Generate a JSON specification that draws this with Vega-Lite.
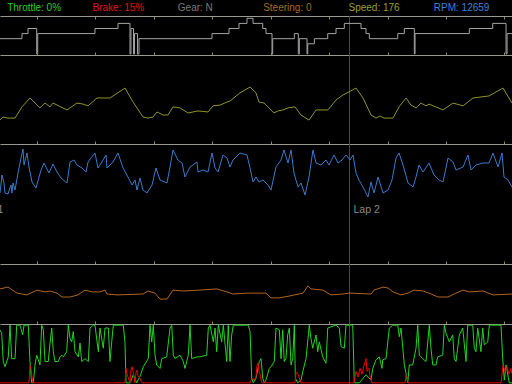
{
  "$schema": "https://vega.github.io/schema/vega-lite/v6.json",
  "background": "#000000",
  "padding": 0,
  "spacing": 0,
  "bounds": "flush",
  "config": {
    "view": {"stroke": null},
    "axis": {"labels": false, "grid": false, "domainColor": "#9a9a90", "tickColor": "#8c8c50", "tickSize": 3, "domainWidth": 1, "tickWidth": 1}
  },
  "datasets": {
    "header": [
      {"channel": "Throttle", "text": "Throttle: 0%"},
      {"channel": "Brake", "text": "Brake: 15%"},
      {"channel": "Gear", "text": "Gear: N"},
      {"channel": "Steering", "text": "Steering: 0"},
      {"channel": "Speed", "text": "Speed: 176"},
      {"channel": "RPM", "text": "RPM: 12659"}
    ],
    "laps": [
      {"t": 49.1, "lap": "Lap 1"},
      {"t": 113.5, "lap": "Lap 2"}
    ],
    "gear": [
      {"t":53.70,"gear":3},{"t":57.46,"gear":4},{"t":58.49,"gear":5},{"t":59.98,"gear":0},{"t":60.15,"gear":4},{"t":69.95,"gear":5},{"t":73.89,"gear":6},{"t":75.94,"gear":0},{"t":76.11,"gear":5},{"t":76.54,"gear":0},{"t":76.71,"gear":4},{"t":77.23,"gear":0},{"t":77.48,"gear":3},{"t":89.97,"gear":4},{"t":92.88,"gear":5},{"t":94.59,"gear":6},{"t":95.96,"gear":7},{"t":96.99,"gear":6},{"t":98.65,"gear":5},{"t":99.21,"gear":4},{"t":100.24,"gear":0},{"t":100.36,"gear":3},{"t":104.06,"gear":4},{"t":104.74,"gear":0},{"t":104.91,"gear":3},{"t":106.23,"gear":0},{"t":106.35,"gear":2},{"t":107.48,"gear":3},{"t":109.77,"gear":4},{"t":111.19,"gear":5},{"t":112.61,"gear":6},{"t":115.47,"gear":5},{"t":116.32,"gear":4},{"t":116.89,"gear":3},{"t":121.75,"gear":4},{"t":122.88,"gear":5},{"t":124.59,"gear":0},{"t":124.71,"gear":4},{"t":134.00,"gear":5},{"t":138.00,"gear":6},{"t":140.28,"gear":0},{"t":140.45,"gear":4},{"t":141.30,"gear":4}
    ],
    "speed": [
      {"t":53.70,"kmh":94},{"t":54.21,"kmh":106},{"t":55.07,"kmh":102},{"t":56.27,"kmh":102},{"t":57.46,"kmh":146},{"t":58.83,"kmh":181},{"t":60.54,"kmh":142},{"t":61.40,"kmh":161},{"t":62.26,"kmh":146},{"t":62.77,"kmh":161},{"t":65.16,"kmh":134},{"t":66.87,"kmh":161},{"t":67.90,"kmh":157},{"t":68.76,"kmh":150},{"t":70.30,"kmh":181},{"t":72.52,"kmh":181},{"t":75.09,"kmh":220},{"t":76.46,"kmh":165},{"t":78.17,"kmh":106},{"t":79.02,"kmh":102},{"t":79.88,"kmh":106},{"t":80.56,"kmh":126},{"t":81.59,"kmh":114},{"t":82.44,"kmh":114},{"t":83.30,"kmh":146},{"t":84.50,"kmh":142},{"t":85.87,"kmh":122},{"t":86.72,"kmh":126},{"t":87.58,"kmh":130},{"t":89.29,"kmh":126},{"t":90.14,"kmh":150},{"t":91.34,"kmh":153},{"t":92.54,"kmh":165},{"t":93.05,"kmh":169},{"t":94.76,"kmh":201},{"t":96.48,"kmh":224},{"t":97.50,"kmh":201},{"t":98.01,"kmh":165},{"t":98.87,"kmh":161},{"t":100.58,"kmh":122},{"t":101.27,"kmh":130},{"t":102.12,"kmh":134},{"t":102.98,"kmh":142},{"t":104.17,"kmh":146},{"t":105.20,"kmh":114},{"t":106.57,"kmh":94},{"t":107.77,"kmh":134},{"t":109.82,"kmh":134},{"t":111.19,"kmh":173},{"t":112.39,"kmh":193},{"t":113.41,"kmh":205},{"t":114.61,"kmh":220},{"t":115.81,"kmh":181},{"t":117.18,"kmh":114},{"t":118.03,"kmh":102},{"t":118.72,"kmh":110},{"t":119.40,"kmh":102},{"t":120.94,"kmh":102},{"t":121.97,"kmh":146},{"t":123.17,"kmh":181},{"t":124.02,"kmh":153},{"t":124.88,"kmh":142},{"t":125.73,"kmh":161},{"t":126.59,"kmh":150},{"t":127.10,"kmh":157},{"t":129.50,"kmh":134},{"t":131.21,"kmh":161},{"t":132.92,"kmh":150},{"t":134.63,"kmh":181},{"t":137.37,"kmh":189},{"t":139.76,"kmh":220},{"t":141.30,"kmh":161}
    ],
    "rpm": [
      {"t":53.70,"rpm":8875},{"t":54.04,"rpm":11125},{"t":54.38,"rpm":10125},{"t":54.56,"rpm":8875},{"t":55.07,"rpm":8750},{"t":55.58,"rpm":9875},{"t":55.75,"rpm":8875},{"t":55.92,"rpm":10125},{"t":56.27,"rpm":9250},{"t":56.78,"rpm":11375},{"t":57.29,"rpm":13250},{"t":57.64,"rpm":14375},{"t":57.81,"rpm":12375},{"t":58.32,"rpm":13875},{"t":58.66,"rpm":12125},{"t":59.18,"rpm":10250},{"t":59.86,"rpm":9500},{"t":60.72,"rpm":11750},{"t":61.23,"rpm":12625},{"t":62.08,"rpm":11375},{"t":62.77,"rpm":12500},{"t":63.45,"rpm":11500},{"t":64.14,"rpm":10750},{"t":65.16,"rpm":10125},{"t":65.68,"rpm":12750},{"t":66.36,"rpm":13000},{"t":66.87,"rpm":12375},{"t":67.73,"rpm":12000},{"t":68.41,"rpm":11500},{"t":68.76,"rpm":12750},{"t":69.27,"rpm":13250},{"t":69.95,"rpm":13875},{"t":70.47,"rpm":12000},{"t":70.81,"rpm":12375},{"t":71.84,"rpm":13625},{"t":72.01,"rpm":12000},{"t":73.03,"rpm":12750},{"t":73.89,"rpm":13875},{"t":74.75,"rpm":12000},{"t":75.60,"rpm":10875},{"t":76.29,"rpm":9875},{"t":76.80,"rpm":10500},{"t":77.14,"rpm":9250},{"t":77.65,"rpm":10750},{"t":78.17,"rpm":9250},{"t":78.85,"rpm":8875},{"t":79.71,"rpm":9875},{"t":80.39,"rpm":12000},{"t":81.08,"rpm":10500},{"t":82.27,"rpm":10125},{"t":82.79,"rpm":12125},{"t":83.30,"rpm":14250},{"t":84.16,"rpm":13000},{"t":84.84,"rpm":12625},{"t":85.35,"rpm":10875},{"t":86.21,"rpm":12125},{"t":87.41,"rpm":12750},{"t":87.58,"rpm":11500},{"t":88.43,"rpm":11750},{"t":89.29,"rpm":11500},{"t":89.97,"rpm":13875},{"t":90.49,"rpm":12000},{"t":91.00,"rpm":11500},{"t":91.86,"rpm":13625},{"t":92.54,"rpm":13250},{"t":93.05,"rpm":12125},{"t":93.57,"rpm":13000},{"t":94.76,"rpm":13875},{"t":95.96,"rpm":13625},{"t":96.48,"rpm":12000},{"t":96.99,"rpm":10250},{"t":97.50,"rpm":10875},{"t":98.01,"rpm":10250},{"t":98.70,"rpm":10500},{"t":99.55,"rpm":9875},{"t":100.07,"rpm":9250},{"t":100.92,"rpm":12125},{"t":101.78,"rpm":13000},{"t":102.29,"rpm":14250},{"t":102.98,"rpm":12625},{"t":103.49,"rpm":14250},{"t":104.00,"rpm":11375},{"t":104.69,"rpm":9625},{"t":105.20,"rpm":10125},{"t":105.89,"rpm":8625},{"t":106.57,"rpm":10875},{"t":107.25,"rpm":14250},{"t":107.77,"rpm":12625},{"t":108.62,"rpm":12375},{"t":109.48,"rpm":13000},{"t":109.99,"rpm":12375},{"t":110.85,"rpm":13625},{"t":111.53,"rpm":12625},{"t":112.22,"rpm":13000},{"t":112.90,"rpm":13625},{"t":113.59,"rpm":13000},{"t":114.10,"rpm":13625},{"t":114.61,"rpm":11375},{"t":115.12,"rpm":10500},{"t":115.81,"rpm":9625},{"t":116.66,"rpm":8375},{"t":117.18,"rpm":10250},{"t":117.69,"rpm":8875},{"t":118.38,"rpm":10875},{"t":119.23,"rpm":8875},{"t":120.09,"rpm":9250},{"t":120.77,"rpm":10500},{"t":121.46,"rpm":13250},{"t":121.97,"rpm":13875},{"t":122.65,"rpm":12375},{"t":123.51,"rpm":10125},{"t":124.36,"rpm":9625},{"t":124.88,"rpm":10875},{"t":125.39,"rpm":12375},{"t":126.08,"rpm":11500},{"t":127.10,"rpm":12625},{"t":127.96,"rpm":11125},{"t":128.81,"rpm":10500},{"t":129.50,"rpm":10250},{"t":130.35,"rpm":13250},{"t":131.21,"rpm":12750},{"t":131.72,"rpm":11750},{"t":132.92,"rpm":12125},{"t":133.77,"rpm":13625},{"t":134.29,"rpm":11750},{"t":135.14,"rpm":12375},{"t":136.34,"rpm":12625},{"t":137.37,"rpm":12625},{"t":138.05,"rpm":13875},{"t":138.91,"rpm":12125},{"t":139.59,"rpm":13875},{"t":139.93,"rpm":10875},{"t":140.62,"rpm":10500},{"t":141.30,"rpm":9625}
    ],
    "steer": [
      {"t":53.70,"steer":17},{"t":55.07,"steer":23},{"t":56.61,"steer":3},{"t":58.32,"steer":-3},{"t":60.03,"steer":13},{"t":61.40,"steer":7},{"t":62.26,"steer":10},{"t":63.45,"steer":3},{"t":64.31,"steer":-10},{"t":65.68,"steer":-10},{"t":67.05,"steer":-3},{"t":68.24,"steer":13},{"t":69.44,"steer":7},{"t":70.81,"steer":7},{"t":71.67,"steer":13},{"t":72.01,"steer":0},{"t":73.72,"steer":-3},{"t":78.17,"steer":0},{"t":79.02,"steer":10},{"t":80.22,"steer":3},{"t":81.08,"steer":-17},{"t":82.27,"steer":-17},{"t":83.30,"steer":13},{"t":85.01,"steer":10},{"t":87.92,"steer":13},{"t":90.83,"steer":17},{"t":92.54,"steer":7},{"t":93.57,"steer":0},{"t":95.96,"steer":3},{"t":97.50,"steer":3},{"t":99.21,"steer":3},{"t":100.07,"steer":-13},{"t":101.44,"steer":-13},{"t":103.15,"steer":-7},{"t":105.54,"steer":3},{"t":106.40,"steer":27},{"t":106.91,"steer":17},{"t":108.96,"steer":13},{"t":110.33,"steer":-3},{"t":112.39,"steer":0},{"t":113.41,"steer":3},{"t":117.18,"steer":0},{"t":117.69,"steer":13},{"t":119.23,"steer":23},{"t":120.09,"steer":20},{"t":120.94,"steer":7},{"t":122.31,"steer":-3},{"t":123.51,"steer":3},{"t":124.54,"steer":13},{"t":126.08,"steer":10},{"t":127.10,"steer":3},{"t":128.64,"steer":-10},{"t":130.35,"steer":-10},{"t":131.72,"steer":3},{"t":132.92,"steer":13},{"t":133.95,"steer":7},{"t":136.34,"steer":10},{"t":138.05,"steer":-3},{"t":141.30,"steer":0}
    ],
    "throttle": [
      {"t":53.70,"pct":92},{"t":53.99,"pct":86},{"t":54.26,"pct":37},{"t":54.56,"pct":28},{"t":55.12,"pct":45},{"t":55.41,"pct":100},{"t":55.70,"pct":42},{"t":56.27,"pct":42},{"t":56.56,"pct":100},{"t":57.12,"pct":100},{"t":57.58,"pct":83},{"t":57.81,"pct":100},{"t":58.54,"pct":100},{"t":58.83,"pct":37},{"t":59.12,"pct":0},{"t":59.40,"pct":0},{"t":59.69,"pct":31},{"t":59.98,"pct":48},{"t":60.54,"pct":31},{"t":60.83,"pct":100},{"t":61.11,"pct":92},{"t":61.40,"pct":37},{"t":61.96,"pct":37},{"t":62.26,"pct":69},{"t":62.55,"pct":95},{"t":62.82,"pct":54},{"t":63.11,"pct":37},{"t":63.68,"pct":37},{"t":63.97,"pct":45},{"t":64.26,"pct":48},{"t":64.53,"pct":45},{"t":65.11,"pct":54},{"t":65.39,"pct":100},{"t":65.68,"pct":77},{"t":65.97,"pct":71},{"t":66.24,"pct":89},{"t":66.53,"pct":54},{"t":67.10,"pct":45},{"t":67.39,"pct":69},{"t":67.68,"pct":37},{"t":68.24,"pct":42},{"t":68.81,"pct":37},{"t":69.10,"pct":95},{"t":69.66,"pct":100},{"t":69.95,"pct":100},{"t":70.52,"pct":54},{"t":70.81,"pct":95},{"t":71.37,"pct":60},{"t":71.67,"pct":95},{"t":72.23,"pct":95},{"t":72.52,"pct":37},{"t":72.81,"pct":71},{"t":73.09,"pct":100},{"t":74.80,"pct":100},{"t":75.09,"pct":69},{"t":75.26,"pct":0},{"t":75.94,"pct":0},{"t":76.51,"pct":14},{"t":77.09,"pct":0},{"t":77.65,"pct":11},{"t":78.22,"pct":28},{"t":79.07,"pct":42},{"t":79.37,"pct":100},{"t":79.66,"pct":71},{"t":79.93,"pct":100},{"t":80.22,"pct":48},{"t":80.51,"pct":31},{"t":81.08,"pct":25},{"t":81.37,"pct":42},{"t":82.22,"pct":45},{"t":82.79,"pct":95},{"t":83.08,"pct":100},{"t":83.35,"pct":48},{"t":83.64,"pct":42},{"t":84.50,"pct":48},{"t":85.06,"pct":37},{"t":85.35,"pct":25},{"t":85.92,"pct":48},{"t":86.21,"pct":100},{"t":86.50,"pct":42},{"t":87.36,"pct":45},{"t":87.92,"pct":45},{"t":89.07,"pct":48},{"t":89.34,"pct":95},{"t":89.63,"pct":100},{"t":90.20,"pct":71},{"t":90.49,"pct":95},{"t":90.78,"pct":54},{"t":91.05,"pct":100},{"t":91.63,"pct":71},{"t":91.91,"pct":100},{"t":92.49,"pct":37},{"t":92.76,"pct":100},{"t":93.05,"pct":37},{"t":93.34,"pct":83},{"t":93.62,"pct":100},{"t":96.18,"pct":100},{"t":96.48,"pct":89},{"t":96.77,"pct":8},{"t":97.04,"pct":0},{"t":97.50,"pct":8},{"t":98.07,"pct":37},{"t":98.36,"pct":42},{"t":98.65,"pct":8},{"t":98.92,"pct":0},{"t":99.21,"pct":5},{"t":99.78,"pct":25},{"t":100.07,"pct":28},{"t":100.63,"pct":37},{"t":100.92,"pct":95},{"t":101.49,"pct":92},{"t":101.78,"pct":42},{"t":102.07,"pct":92},{"t":102.34,"pct":37},{"t":102.63,"pct":42},{"t":102.92,"pct":83},{"t":103.20,"pct":95},{"t":103.49,"pct":31},{"t":103.78,"pct":42},{"t":104.06,"pct":100},{"t":104.23,"pct":8},{"t":104.64,"pct":0},{"t":105.20,"pct":5},{"t":105.49,"pct":19},{"t":106.06,"pct":42},{"t":106.62,"pct":100},{"t":106.91,"pct":77},{"t":107.20,"pct":60},{"t":107.77,"pct":83},{"t":108.06,"pct":54},{"t":108.33,"pct":71},{"t":108.91,"pct":45},{"t":109.48,"pct":34},{"t":109.77,"pct":95},{"t":111.19,"pct":100},{"t":111.75,"pct":95},{"t":112.05,"pct":63},{"t":112.61,"pct":60},{"t":112.90,"pct":100},{"t":114.05,"pct":100},{"t":114.32,"pct":0},{"t":115.18,"pct":0},{"t":116.32,"pct":14},{"t":117.18,"pct":5},{"t":117.47,"pct":25},{"t":118.03,"pct":40},{"t":118.60,"pct":45},{"t":119.06,"pct":25},{"t":119.18,"pct":40},{"t":119.74,"pct":42},{"t":120.31,"pct":95},{"t":120.89,"pct":100},{"t":121.75,"pct":100},{"t":122.02,"pct":80},{"t":122.31,"pct":95},{"t":122.88,"pct":31},{"t":123.17,"pct":16},{"t":123.46,"pct":0},{"t":123.73,"pct":31},{"t":124.31,"pct":31},{"t":124.88,"pct":60},{"t":125.17,"pct":100},{"t":125.44,"pct":48},{"t":126.02,"pct":42},{"t":126.59,"pct":37},{"t":127.15,"pct":100},{"t":127.44,"pct":60},{"t":127.74,"pct":31},{"t":128.30,"pct":31},{"t":128.59,"pct":45},{"t":129.45,"pct":48},{"t":129.72,"pct":100},{"t":130.01,"pct":86},{"t":130.58,"pct":71},{"t":131.16,"pct":83},{"t":131.43,"pct":42},{"t":131.72,"pct":37},{"t":132.29,"pct":83},{"t":132.87,"pct":95},{"t":133.43,"pct":37},{"t":133.72,"pct":100},{"t":134.58,"pct":100},{"t":134.85,"pct":60},{"t":135.14,"pct":54},{"t":135.43,"pct":95},{"t":135.99,"pct":54},{"t":136.29,"pct":95},{"t":136.56,"pct":66},{"t":137.15,"pct":71},{"t":137.42,"pct":100},{"t":139.42,"pct":100},{"t":139.71,"pct":42},{"t":139.99,"pct":5},{"t":140.28,"pct":31},{"t":140.84,"pct":0},{"t":141.30,"pct":0}
    ],
    "brake": [
      {"t":53.70,"pct":0},{"t":58.66,"pct":0},{"t":58.83,"pct":30},{"t":59.00,"pct":25},{"t":59.18,"pct":10},{"t":59.35,"pct":0},{"t":75.09,"pct":0},{"t":75.26,"pct":25},{"t":75.43,"pct":15},{"t":75.77,"pct":5},{"t":75.94,"pct":0},{"t":76.11,"pct":22},{"t":76.29,"pct":28},{"t":76.46,"pct":20},{"t":76.80,"pct":0},{"t":76.97,"pct":18},{"t":77.14,"pct":22},{"t":77.31,"pct":12},{"t":77.48,"pct":10},{"t":77.65,"pct":8},{"t":77.83,"pct":3},{"t":78.00,"pct":0},{"t":96.48,"pct":0},{"t":96.82,"pct":8},{"t":97.16,"pct":5},{"t":97.50,"pct":10},{"t":97.67,"pct":30},{"t":97.84,"pct":34},{"t":98.01,"pct":20},{"t":98.19,"pct":15},{"t":98.36,"pct":5},{"t":98.53,"pct":0},{"t":104.17,"pct":0},{"t":104.35,"pct":19},{"t":104.69,"pct":15},{"t":105.03,"pct":5},{"t":105.20,"pct":0},{"t":114.27,"pct":0},{"t":114.61,"pct":20},{"t":114.95,"pct":10},{"t":115.30,"pct":25},{"t":115.64,"pct":15},{"t":115.98,"pct":30},{"t":116.32,"pct":42},{"t":116.49,"pct":20},{"t":116.84,"pct":25},{"t":117.01,"pct":10},{"t":117.35,"pct":0},{"t":123.00,"pct":0},{"t":123.17,"pct":13},{"t":123.34,"pct":10},{"t":123.51,"pct":0},{"t":139.42,"pct":0},{"t":139.76,"pct":30},{"t":140.11,"pct":20},{"t":140.45,"pct":28},{"t":140.79,"pct":15},{"t":141.13,"pct":25},{"t":141.30,"pct":15}
    ]
  },
  "vconcat": [
    {
      "width": 512, "height": 16,
      "data": {"name": "header"},
      "mark": {"type": "text", "align": "left", "baseline": "alphabetic", "dx": -35.5, "dy": 2.7, "fontSize": 10, "font": "Liberation Sans"},
      "encoding": {
        "x": {"field": "channel", "type": "nominal", "sort": null, "scale": {"paddingInner": 0, "paddingOuter": 0}, "axis": null},
        "text": {"field": "text"},
        "color": {"field": "channel", "type": "nominal", "legend": null,
          "scale": {"domain": ["Throttle", "Brake", "Gear", "Steering", "Speed", "RPM"], "range": ["#2ecc2e", "#e01515", "#7a7a7a", "#a8692c", "#9c9c3a", "#3c82d8"]}}
      }
    },
    {
      "width": 512, "height": 39,
      "layer": [
        {"data": {"name": "laps"}, "mark": {"type": "rule", "color": "#4a4a4a", "clip": true},
         "encoding": {"x": {"field": "t", "type": "quantitative", "title": null, "scale": {"domain": [53.7, 141.3], "nice": false, "zero": false}, "axis": {"orient": "top", "tickSize": -3, "values": [60,70,80,90,100,110,120,130,140]}}}},
        {"data": {"name": "gear"}, "mark": {"type": "line", "interpolate": "step-after", "color": "#a4a4a4", "strokeWidth": 1, "clip": true},
         "encoding": {
           "x": {"field": "t", "type": "quantitative", "title": null, "scale": {"domain": [53.7, 141.3], "nice": false, "zero": false}, "axis": {"orient": "top", "tickSize": -3, "values": [60,70,80,90,100,110,120,130,140]}},
           "y": {"field": "gear", "type": "quantitative", "scale": {"domain": [-0.2, 7.45], "nice": false, "zero": false}, "axis": null}
         }}
      ]
    },
    {
      "width": 512, "height": 89,
      "layer": [
        {"data": {"name": "laps"}, "mark": {"type": "rule", "color": "#4a4a4a", "clip": true},
         "encoding": {"x": {"field": "t", "type": "quantitative", "title": null, "scale": {"domain": [53.7, 141.3], "nice": false, "zero": false}, "axis": {"orient": "top", "values": [60,70,80,90,100,110,120,130,140]}}}},
        {"data": {"name": "speed"}, "mark": {"type": "line", "color": "#929228", "strokeWidth": 1, "clip": true},
         "encoding": {
           "x": {"field": "t", "type": "quantitative", "title": null, "scale": {"domain": [53.7, 141.3], "nice": false, "zero": false}, "axis": {"orient": "top", "values": [60,70,80,90,100,110,120,130,140]}},
           "y": {"field": "kmh", "type": "quantitative", "scale": {"domain": [0, 350], "nice": false}, "axis": null}
         }}
      ]
    },
    {
      "width": 512, "height": 56,
      "layer": [
        {"data": {"name": "laps"}, "mark": {"type": "rule", "color": "#4a4a4a", "clip": true},
         "encoding": {"x": {"field": "t", "type": "quantitative", "title": null, "scale": {"domain": [53.7, 141.3], "nice": false, "zero": false}, "axis": {"orient": "top", "values": [60,70,80,90,100,110,120,130,140]}}}},
        {"data": {"name": "rpm"}, "mark": {"type": "line", "color": "#3a7acc", "strokeWidth": 1, "clip": true},
         "encoding": {
           "x": {"field": "t", "type": "quantitative", "title": null, "scale": {"domain": [53.7, 141.3], "nice": false, "zero": false}, "axis": {"orient": "top", "values": [60,70,80,90,100,110,120,130,140]}},
           "y": {"field": "rpm", "type": "quantitative", "scale": {"domain": [8000, 15000], "nice": false, "zero": false}, "axis": null}
         }}
      ]
    },
    {
      "width": 512, "height": 20,
      "data": {"name": "laps"},
      "layer": [
        {"mark": {"type": "rule", "color": "#4a4a4a", "clip": true},
         "encoding": {"x": {"field": "t", "type": "quantitative", "scale": {"domain": [53.7, 141.3], "nice": false, "zero": false}, "axis": null}}},
        {"mark": {"type": "text", "align": "left", "baseline": "middle", "dx": 4, "fontSize": 10.5, "font": "Liberation Sans", "color": "#8a8a8a", "clip": true},
         "encoding": {"x": {"field": "t", "type": "quantitative", "scale": {"domain": [53.7, 141.3], "nice": false, "zero": false}, "axis": null}, "text": {"field": "lap"}}}
      ]
    },
    {
      "width": 512, "height": 44,
      "data": {"name": "laps"},
      "mark": {"type": "rule", "color": "#4a4a4a", "clip": true},
      "encoding": {"x": {"field": "t", "type": "quantitative", "scale": {"domain": [53.7, 141.3], "nice": false, "zero": false}, "axis": null}}
    },
    {
      "width": 512, "height": 60,
      "layer": [
        {"data": {"name": "laps"}, "mark": {"type": "rule", "color": "#4a4a4a", "clip": true},
         "encoding": {"x": {"field": "t", "type": "quantitative", "title": null, "scale": {"domain": [53.7, 141.3], "nice": false, "zero": false}, "axis": {"orient": "top", "values": [60,70,80,90,100,110,120,130,140]}}}},
        {"data": {"name": "steer"}, "mark": {"type": "line", "color": "#b0641e", "strokeWidth": 1, "clip": true},
         "encoding": {
           "x": {"field": "t", "type": "quantitative", "title": null, "scale": {"domain": [53.7, 141.3], "nice": false, "zero": false}, "axis": {"orient": "top", "values": [60,70,80,90,100,110,120,130,140]}},
           "y": {"field": "steer", "type": "quantitative", "scale": {"domain": [-100, 100], "nice": false}, "axis": null}
         }}
      ]
    },
    {
      "width": 512, "height": 60,
      "layer": [
        {"data": {"name": "laps"}, "mark": {"type": "rule", "color": "#4a4a4a", "clip": true},
         "encoding": {"x": {"field": "t", "type": "quantitative", "title": null, "scale": {"domain": [53.7, 141.3], "nice": false, "zero": false}, "axis": {"orient": "top", "values": [60,70,80,90,100,110,120,130,140]}}}},
        {"data": {"name": "throttle"}, "mark": {"type": "line", "color": "#22d422", "strokeWidth": 1, "clip": true},
         "encoding": {
           "x": {"field": "t", "type": "quantitative", "title": null, "scale": {"domain": [53.7, 141.3], "nice": false, "zero": false}, "axis": {"orient": "top", "values": [60,70,80,90,100,110,120,130,140]}},
           "y": {"field": "pct", "type": "quantitative", "scale": {"domain": [-2, 102], "nice": false, "zero": false}, "axis": null}
         }},
        {"data": {"name": "brake"}, "mark": {"type": "line", "color": "#f00000", "strokeWidth": 1, "clip": true},
         "encoding": {
           "x": {"field": "t", "type": "quantitative", "title": null, "scale": {"domain": [53.7, 141.3], "nice": false, "zero": false}, "axis": {"orient": "top", "values": [60,70,80,90,100,110,120,130,140]}},
           "y": {"field": "pct", "type": "quantitative", "scale": {"domain": [-2, 102], "nice": false, "zero": false}, "axis": null}
         }}
      ]
    }
  ]
}
